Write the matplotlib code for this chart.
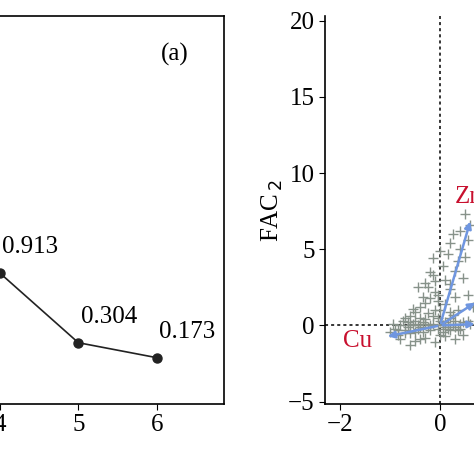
import matplotlib.pyplot as plt

plt.rcParams["font.family"] = ["Liberation Serif", "DejaVu Serif"]

# panel (a): eigenvalue-like curve (visible part)
comp = [4, 5, 6]
vals = [0.913, 0.304, 0.173]

# panel (b): scores (hand-read approximations of the cloud)
score_x = [-1.0, -0.9, -0.85, -0.8, -0.7, -0.65, -0.6, -0.55, -0.5, -0.45, -0.4, -0.35, -0.3,
           -0.25, -0.2, -0.15, -0.1, -0.05, 0.0, 0.05, 0.1, 0.15, 0.2, 0.25, 0.3, 0.35, 0.4,
           -0.6, -0.5, -0.4, -0.3, -0.2, -0.1, 0.0, 0.1, 0.2, 0.3, -0.45, -0.3, -0.15, -0.05,
           0.1, 0.2, 0.3, 0.35, 0.4, 0.45, 0.5, 0.55, 0.6, -0.15, 0.0, 0.15, 0.25, 0.4, 0.5,
           -0.35, -0.2, -0.1, 0.05, 0.2, -0.7, -0.55, -0.8, -0.6, -0.5, -0.3, -0.1, 0.1, 0.3,
           0.45, 0.6, -0.25, -0.05, 0.2, 0.35, 0.55, 0.65, -0.4, 0.25,
           -0.95, -0.75, -0.65, -0.45, -0.35, -0.25, -0.15, -0.05, 0.05, 0.15, 0.3, 0.45,
           -0.85, -0.7, -0.5, -0.4, -0.2, 0.0, 0.2, 0.4, 0.55, -0.6, -0.3, 0.1]
score_y = [-0.4, -0.2, -0.6, 0.0, -0.3, 0.2, -0.5, 0.1, 0.3, -0.2, 0.5, -0.4, 0.4,
           0.8, -0.3, 0.6, 1.0, -0.2, 0.3, -0.4, 0.2, -0.2, 0.5, 0.0, 0.3, -0.3, 0.1,
           0.6, 0.9, 1.2, 1.5, 1.8, 2.2, 1.0, 1.4, 0.9, 1.9, 2.5, 2.8, 3.3, 2.0,
           3.0, 2.4, 3.6, 4.2, 5.0, 3.1, 4.5, 5.6, 6.6, 4.4, 4.9, 4.7, 6.0, 6.2, 7.3,
           1.9, 3.5, 2.9, 3.9, 5.4, 0.5, 1.1, -0.9, -1.3, -1.0, -0.8, -1.1, -0.7, -0.9,
           -0.6, 0.1, 2.5, 1.6, 2.7, 1.0, 2.0, 1.2, -0.9, 0.7,
           0.1, 0.3, -0.1, 0.0, 0.2, -0.1, 0.1, 0.5, 0.0, 0.1, -0.1, 0.2,
           -0.3, -0.5, -0.4, -0.1, 0.0, -0.6, -0.3, -0.2, 0.3, 0.0, 0.1, -0.1]

loading_x = [-1.1, 0.62, 0.75, 0.75]
loading_y = [-0.75, 7.0, 1.6, 0.1]
label_names = ["Cu", "Zn"]
label_x = [-1.95, 0.3]
label_y = [-1.0, 8.4]

fig = plt.figure(figsize=(4.74, 4.74), dpi=100)
W = H = 474.0

# left panel, axes extend past the left edge of the picture
axa = fig.add_axes([-276 / W, 70 / H, 500 / W, 388 / H])
axa.plot(comp, vals, color="#222222", lw=1.2, marker="o", ms=6.5)
for x, v in zip(comp, vals):
    axa.text(x + 0.03, v + 0.13, f"{v:.3f}", fontsize=18, ha="left", va="bottom")
axa.set_xlim(0.5, 6.85)
axa.set_ylim(-0.23, 3.15)
axa.set_xticks(comp)
axa.set_yticks([])
axa.tick_params(labelsize=18, length=4)
axa.text(0.93, 0.93, "(a)", transform=axa.transAxes, fontsize=18, ha="right", va="top")

# right panel, extends past the right edge
axb = fig.add_axes([325 / W, 70 / H, 315 / W, 388 / H])
axb.axhline(0, color="black", ls=(0, (2, 2)), lw=1.1)
axb.axvline(0, color="black", ls=(0, (2, 2)), lw=1.1)
axb.scatter(score_x, score_y, marker="+", s=60, color="#87928a", lw=1.0, zorder=2)
for lx, ly in zip(loading_x, loading_y):
    axb.annotate("", xy=(lx, ly), xytext=(0, 0),
                 arrowprops=dict(arrowstyle="-|>", color="#6f96e0", lw=1.8), zorder=3)
for name, tx, ty in zip(label_names, label_x, label_y):
    axb.text(tx, ty, name, color="#c8102e", fontsize=18, ha="left", va="center")
axb.set_xlim(-2.3, 4.0)
axb.set_ylim(-5.15, 20.3)
axb.set_xticks([-2, 0, 2, 4])
axb.set_yticks([-5, 0, 5, 10, 15, 20])
axb.set_yticklabels(["\u22125", "0", "5", "10", "15", "20"])
axb.set_xticklabels(["\u22122", "0", "2", "4"])
axb.tick_params(labelsize=18, length=4)
axb.set_ylabel("FAC$_{\\,2}$", fontsize=18, labelpad=2)
for ax in (axa, axb):
    for s in ax.spines.values():
        s.set_linewidth(1.2)
axb.spines["top"].set_visible(False)
axb.spines["right"].set_visible(False)

fig.savefig("out.png", dpi=100)
